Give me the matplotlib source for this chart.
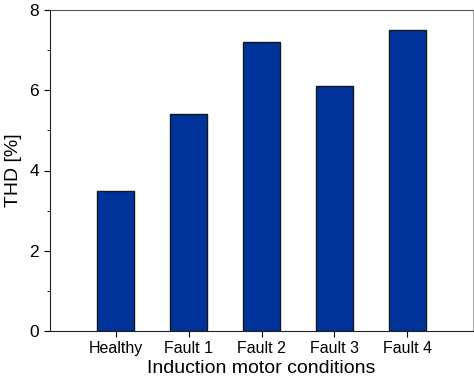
import matplotlib
matplotlib.use("Agg")
import matplotlib.pyplot as plt
from matplotlib.ticker import MultipleLocator

plt.rcParams['font.family'] = ['Liberation Sans', 'DejaVu Sans']

categories = ["Healthy", "Fault 1", "Fault 2", "Fault 3", "Fault 4"]
thd_values = [3.5, 5.4, 7.2, 6.1, 7.5]

fig = plt.figure(figsize=(4.74, 3.81), dpi=100)
ax = fig.add_axes([50/474, 1 - 331/381, 423/474, 321/381])

x = list(range(len(categories)))
ax.bar(x, thd_values, width=0.5, color="#003399", edgecolor="#101820", linewidth=1)

ax.set_xlim(-0.9, 4.9)
ax.set_ylim(0, 8)
ax.set_xticks(x)
ax.set_xticklabels(categories, fontsize=11.5)
ax.yaxis.set_major_locator(MultipleLocator(2))
ax.yaxis.set_minor_locator(MultipleLocator(1))
ax.tick_params(axis='y', which='major', direction='out', length=4, labelsize=12.5, pad=4)
ax.tick_params(axis='y', which='minor', direction='out', length=2.5)
ax.tick_params(axis='x', which='major', direction='out', length=4, pad=3)
ax.set_xlabel("Induction motor conditions", fontsize=14, labelpad=3)
ax.set_ylabel("THD [%]", fontsize=14, labelpad=5)

for s in ['left', 'bottom']:
    ax.spines[s].set_color('#222222')
ax.spines['top'].set_color('#555555')
ax.spines['right'].set_color('#aaaaaa')

fig.savefig("out.png", dpi=100)
